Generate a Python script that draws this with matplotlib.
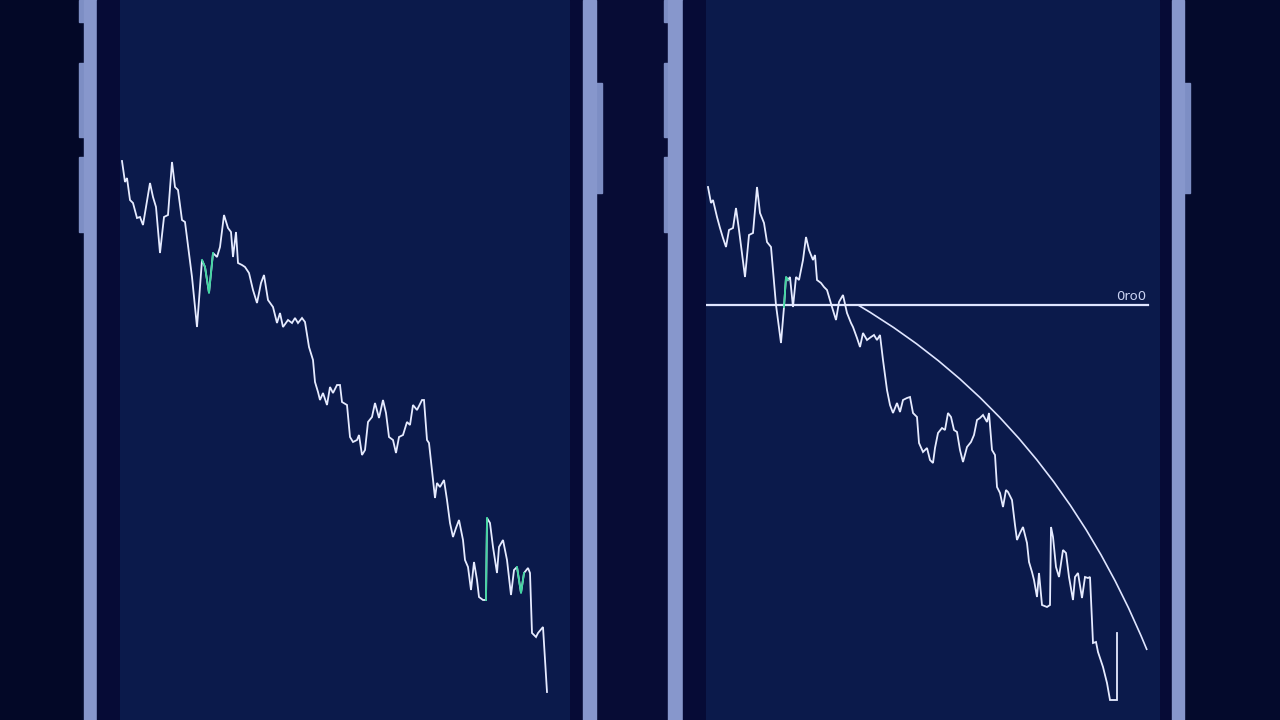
import numpy as np
import matplotlib
matplotlib.use("Agg")
import matplotlib.pyplot as plt
from matplotlib.patches import Rectangle, PathPatch
from matplotlib.path import Path

# ---------------- data ----------------
left_t = [1, 4, 6, 9, 12, 16, 19, 22, 25, 29, 32, 35, 39, 43, 47, 51, 54, 57, 61, 64,
          71, 76, 81, 84, 88, 92, 96, 99, 103, 107, 110, 112, 115, 117, 121, 124, 128,
          132, 136, 140, 143, 147, 152, 156, 159, 162, 167, 171, 174, 177, 181, 184,
          188, 192, 194, 197, 199, 202, 206, 209, 212, 216, 219, 221, 226, 229, 232,
          236, 238, 241, 244, 247, 251, 254, 258, 262, 265, 268, 272, 275, 278, 282,
          286, 289, 292, 296, 301, 303, 306, 308, 312, 314, 316, 319, 323, 326, 329,
          332, 335, 338, 342, 344, 347, 350, 353, 356, 358, 362, 365, 366, 369, 372,
          376, 378, 382, 386, 390, 393, 396, 400, 403, 407, 409, 411, 415, 417, 422, 426]
left_p = [55.9, 53.8, 54.2, 52.0, 51.7, 50.2, 50.3, 49.5, 51.3, 53.7, 52.3, 51.3, 46.7,
          50.3, 50.5, 55.8, 53.3, 53.0, 50.0, 49.8, 44.3, 39.3, 46.0, 45.3, 42.7, 46.7,
          46.3, 47.3, 50.5, 49.2, 48.8, 46.3, 48.8, 45.7, 45.5, 45.3, 44.7, 43.0, 41.7,
          43.7, 44.5, 42.0, 41.3, 39.7, 40.7, 39.3, 40.0, 39.7, 40.2, 39.7, 40.2, 39.8,
          37.3, 36.0, 33.8, 32.8, 32.0, 32.7, 31.5, 33.3, 32.7, 33.5, 33.5, 31.8, 31.5,
          28.3, 27.8, 28.0, 28.5, 26.5, 27.0, 29.8, 30.3, 31.7, 30.2, 32.0, 30.7, 28.3,
          28.0, 26.7, 28.3, 28.5, 29.8, 29.5, 31.5, 31.0, 32.0, 32.0, 28.0, 27.7, 24.0,
          22.2, 23.7, 23.3, 24.0, 22.0, 19.7, 18.3, 19.2, 20.0, 18.0, 16.0, 15.3, 13.0,
          15.8, 14.0, 12.3, 12.0, 12.0, 20.2, 19.7, 17.3, 14.7, 17.3, 18.0, 16.0, 12.5,
          15.0, 15.3, 12.7, 14.7, 15.2, 14.7, 8.7, 8.3, 8.7, 9.3, 2.8]
left_green = [(81, 92), (365, 366), (396, 403)]

right_t = [1, 4, 6, 10, 13, 16, 19, 22, 26, 29, 32, 38, 42, 46, 50, 53, 57, 60, 64, 69,
           74, 77, 79, 81, 83, 86, 89, 92, 96, 99, 102, 106, 108, 110, 114, 117, 120,
           125, 129, 132, 136, 140, 144, 146, 150, 153, 156, 160, 164, 167, 170, 173,
           176, 180, 183, 186, 190, 193, 196, 200, 203, 206, 210, 212, 216, 220, 223,
           226, 228, 231, 235, 238, 241, 244, 247, 250, 253, 256, 260, 264, 267, 270,
           273, 276, 280, 282, 285, 288, 290, 293, 296, 299, 301, 305, 308, 310, 313,
           316, 320, 322, 325, 327, 330, 332, 335, 340, 343, 344, 346, 349, 352, 356,
           359, 362, 366, 368, 371, 375, 378, 381, 383, 386, 389, 391, 396, 400, 403,
           410, 410]
right_p = [53.3, 51.7, 52.0, 50.3, 49.2, 48.2, 47.3, 49.0, 49.2, 51.2, 49.0, 44.3, 48.5,
           48.7, 53.3, 50.7, 49.7, 47.8, 47.3, 41.5, 37.7, 41.3, 44.3, 44.0, 44.3, 41.3,
           44.3, 44.0, 46.0, 48.3, 47.0, 46.0, 46.5, 44.0, 43.7, 43.3, 43.0, 41.3, 40.0,
           41.8, 42.5, 40.7, 39.7, 39.3, 38.2, 37.3, 38.7, 38.0, 38.3, 38.5, 38.0, 38.5,
           36.0, 33.0, 31.5, 30.7, 31.7, 30.8, 32.0, 32.2, 32.3, 30.7, 30.3, 27.7, 26.8,
           27.2, 26.0, 25.7, 27.2, 28.7, 29.2, 29.0, 30.7, 30.3, 29.0, 28.8, 27.0, 25.8,
           27.3, 27.8, 28.5, 30.0, 30.2, 30.5, 29.8, 30.7, 27.0, 26.5, 23.3, 22.7, 21.3,
           23.0, 22.8, 22.0, 19.5, 18.0, 18.7, 19.3, 17.7, 15.8, 14.8, 14.0, 12.3, 14.7,
           11.5, 11.3, 11.5, 19.3, 18.3, 15.3, 14.3, 17.0, 16.7, 14.3, 12.0, 14.3, 14.7,
           12.2, 14.3, 14.2, 14.3, 7.7, 7.8, 6.8, 5.3, 3.7, 2.0, 2.0, 8.7]
right_green = [(77, 81)]

level_price = 41.5
level_label = "0ro0"
# projection curve: start, control, end (quadratic Bezier)
curve_t = [151, 346, 440]
curve_p = [41.5, 30.0, 7.0]

# ---------------- styling ----------------
BG = "#040a2c"
SCREEN = "#0b1a4b"
BEZEL = "#060b36"
FRAME = "#8797cc"
LINE = "#e6ebff"
GREEN = "#3fd6a0"

fig = plt.figure(figsize=(12.8, 7.2), dpi=100, facecolor=BG)

# decorative phone frames (pixel space)
deco = fig.add_axes([0, 0, 1, 1])
deco.set_xlim(0, 1280)
deco.set_ylim(720, 0)
deco.axis("off")
deco.set_facecolor(BG)
deco.add_patch(Rectangle((0, 0), 80, 720, color="#030827", zorder=0))
deco.add_patch(Rectangle((597, 0), 71, 720, color="#070c35", zorder=0))


def phone(x_outer_l, strip_l, screen_l, screen_r, strip_r_l, strip_r_r):
    for (y0, y1) in [(0, 22), (63, 137), (157, 232)]:
        deco.add_patch(Rectangle((x_outer_l, y0), strip_l[0] - x_outer_l + 2, y1 - y0,
                                 color="#7d8ec4", zorder=1))
    deco.add_patch(Rectangle((strip_l[0], 0), strip_l[1] - strip_l[0], 720, color=FRAME, zorder=2))
    deco.add_patch(Rectangle((strip_l[1], 0), screen_l - strip_l[1], 720, color=BEZEL, zorder=2))
    deco.add_patch(Rectangle((screen_r, 0), strip_r_l - screen_r, 720, color=BEZEL, zorder=2))
    deco.add_patch(Rectangle((strip_r_l, 0), strip_r_r - strip_r_l, 720, color=FRAME, zorder=2))
    deco.add_patch(Rectangle((strip_r_r - 2, 83), 8, 110, color="#7d8ec4", zorder=1))


phone(79, (84, 97), 120, 570, 583, 596)
phone(664, (668, 683), 706, 1160, 1172, 1184)


def screen_axes(left_px, width_px, xlim):
    ax = fig.add_axes([left_px / 1280, 0, width_px / 1280, 1])
    ax.set_facecolor(SCREEN)
    ax.set_xlim(*xlim)
    ax.set_ylim(0, 72)
    for s in ax.spines.values():
        s.set_visible(False)
    ax.set_xticks([])
    ax.set_yticks([])
    return ax


def draw_series(ax, t, p, greens):
    t = np.asarray(t, float)
    p = np.asarray(p, float)
    ax.plot(t, p, color=LINE, lw=1.3, solid_joinstyle="miter", zorder=3)
    for (a, b) in greens:
        m = (t >= a) & (t <= b)
        ax.plot(t[m], p[m], color=GREEN, lw=1.3, zorder=4)


axL = screen_axes(120, 450, (-1, 449))
draw_series(axL, left_t, left_p, left_green)

axR = screen_axes(706, 454, (-1, 453))
draw_series(axR, right_t, right_p, right_green)
axR.plot([0, 441], [level_price, level_price], color="#dfe5ff", lw=1.6, zorder=2)
curve = Path(list(zip(curve_t, curve_p)), [Path.MOVETO, Path.CURVE3, Path.CURVE3])
axR.add_patch(PathPatch(curve, facecolor="none", edgecolor="#dfe5ff", lw=1.2, zorder=2))
axR.text(439, level_price + 0.9, level_label, color="#c9d2f2", fontsize=9.5,
         ha="right", va="center", family="DejaVu Sans")

fig.savefig("out.png", dpi=100, facecolor=BG)
